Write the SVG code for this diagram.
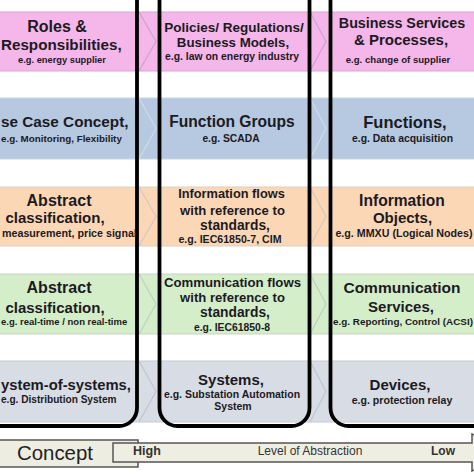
<svg xmlns="http://www.w3.org/2000/svg" width="474" height="474" viewBox="0 0 474 474">
<style>
text{font-family:"Liberation Sans",Arial,sans-serif;fill:#1c1a22;text-anchor:middle;font-weight:bold}
.band{stroke-width:1}
.chev{fill:none;stroke-width:1.2}
.col{fill:none;stroke:#000;stroke-width:3.8}
.st{text-anchor:start}
</style>
<g id="bands">
  <g id="row-business">
    <rect class="band" x="-5" y="12" width="490" height="59" fill="#f5b6ea" stroke="#d9a8d4"/>
    <polyline class="chev" points="139,12 156,41.5 139,71" stroke="#c9a4cc"/>
    <polyline class="chev" points="310,12 326,41.5 310,71" stroke="#c9a4cc"/>
  </g>
  <g id="row-function">
    <rect class="band" x="-5" y="98" width="490" height="61" fill="#b6c9e1" stroke="#c9d6e6"/>
    <polyline class="chev" points="139,98 156,128.5 139,159" stroke="#d0dbe8"/>
    <polyline class="chev" points="310,98 326,128.5 310,159" stroke="#d0dbe8"/>
  </g>
  <g id="row-information">
    <rect class="band" x="-5" y="187" width="490" height="59" fill="#fcd7b6" stroke="#d8d0c8"/>
    <polyline class="chev" points="139,187 156,216.5 139,246" stroke="#d4c8c0"/>
    <polyline class="chev" points="310,187 326,216.5 310,246" stroke="#d4c8c0"/>
  </g>
  <g id="row-communication">
    <rect class="band" x="-5" y="274" width="490" height="60" fill="#d4eeca" stroke="#c8d4c4"/>
    <polyline class="chev" points="139,274 156,304 139,334" stroke="#bfcfc0"/>
    <polyline class="chev" points="310,274 326,304 310,334" stroke="#bfcfc0"/>
  </g>
  <g id="row-component">
    <rect class="band" x="-5" y="361" width="490" height="61" fill="#d8dce5" stroke="#c6cad4"/>
    <polyline class="chev" points="139,361 156,391.5 139,422" stroke="#bfc4cf"/>
    <polyline class="chev" points="310,361 326,391.5 310,422" stroke="#bfc4cf"/>
  </g>
</g>
<g id="columns">
  <rect id="col-concept" class="col" x="-60" y="-40" width="197" height="466" rx="18"/>
  <rect id="col-mid" class="col" x="159.5" y="-40" width="150" height="466" rx="18"/>
  <rect id="col-low" class="col" x="330.5" y="-40" width="200" height="466" rx="18"/>
</g>
<g id="labels">
  <g id="n-roles">
    <text x="57" y="32" font-size="16">Roles &amp;</text>
    <text x="1" y="50" font-size="15.2" class="st">Responsibilities,</text>
    <text x="62" y="63" font-size="9.3">e.g. energy supplier</text>
  </g>
  <g id="n-policies">
    <text x="234" y="32" font-size="13.5">Policies/ Regulations/</text>
    <text x="233" y="47" font-size="13.3">Business Models,</text>
    <text x="232" y="60" font-size="10.4">e.g. law on energy industry</text>
  </g>
  <g id="n-bservices">
    <text x="402" y="28" font-size="14.3">Business Services</text>
    <text x="401" y="45" font-size="15">&amp; Processes,</text>
    <text x="398" y="63" font-size="9.6">e.g. change of supplier</text>
  </g>
  <g id="n-usecase">
    <text x="1" y="127" font-size="15.3" class="st">se Case Concept,</text>
    <text x="1" y="142" font-size="9.8" class="st">e.g. Monitoring, Flexibility</text>
  </g>
  <g id="n-fgroups">
    <text x="232" y="127" font-size="15.6">Function Groups</text>
    <text x="231" y="142" font-size="10.3">e.g. SCADA</text>
  </g>
  <g id="n-functions">
    <text x="405" y="128" font-size="16.5">Functions,</text>
    <text x="402.5" y="142" font-size="10.4">e.g. Data acquisition</text>
  </g>
  <g id="n-abstract-info">
    <text x="59" y="206" font-size="16">Abstract</text>
    <text x="55" y="223" font-size="15">classification,</text>
    <text x="2" y="237" font-size="10.7" class="st">measurement, price signal</text>
  </g>
  <g id="n-infoflows">
    <text x="231.5" y="198" font-size="12.8">Information flows</text>
    <text x="232.5" y="215" font-size="13.1">with reference to</text>
    <text x="235" y="230" font-size="13.8">standards,</text>
    <text x="230" y="243" font-size="10.6">e.g. IEC61850-7, CIM</text>
  </g>
  <g id="n-infoobjects">
    <text x="402" y="206" font-size="15.6">Information</text>
    <text x="402.5" y="223" font-size="15">Objects,</text>
    <text x="404" y="237" font-size="10.7">e.g. MMXU (Logical Nodes)</text>
  </g>
  <g id="n-abstract-comm">
    <text x="59" y="293" font-size="16">Abstract</text>
    <text x="55" y="313" font-size="15">classification,</text>
    <text x="1" y="325" font-size="9.5" class="st">e.g. real-time / non real-time</text>
  </g>
  <g id="n-commflows">
    <text x="232.5" y="287" font-size="13.2">Communication flows</text>
    <text x="232.5" y="302" font-size="13.1">with reference to</text>
    <text x="235" y="317" font-size="13.8">standards,</text>
    <text x="232" y="331" font-size="10.4">e.g. IEC61850-8</text>
  </g>
  <g id="n-commservices">
    <text x="402" y="293" font-size="15.5">Communication</text>
    <text x="401" y="312" font-size="15">Services,</text>
    <text x="403" y="325" font-size="9.9">e.g. Reporting, Control (ACSI)</text>
  </g>
  <g id="n-sos">
    <text x="1" y="390" font-size="14.8" class="st">ystem-of-systems,</text>
    <text x="1" y="403" font-size="10.1" class="st">e.g. Distribution System</text>
  </g>
  <g id="n-systems">
    <text x="231" y="385" font-size="15">Systems,</text>
    <text x="232" y="398" font-size="10.5">e.g. Substation Automation</text>
    <text x="233" y="410" font-size="10.5">System</text>
  </g>
  <g id="n-devices">
    <text x="400" y="390" font-size="15">Devices,</text>
    <text x="402" y="404" font-size="10.6">e.g. protection relay</text>
  </g>
</g>
<g id="legend">
  <rect id="concept-box" x="-5" y="440" width="143" height="27" fill="#eeede1" stroke="#555" stroke-width="1.5"/>
  <text x="55" y="460" font-size="20.4" style="font-weight:normal;fill:#222">Concept</text>
  <path id="abstraction-arrow" d="M113,443 H472 V434 L510,452.5 L472,471 V462 H113 Z" fill="#efeee3" stroke="#555" stroke-width="1.5"/>
  <text x="133" y="455" font-size="12.5" class="st" style="fill:#333">High</text>
  <text x="310" y="455" font-size="12" style="font-weight:normal;fill:#333">Level of Abstraction</text>
  <text x="443" y="455" font-size="12" style="fill:#333">Low</text>
</g>
</svg>
